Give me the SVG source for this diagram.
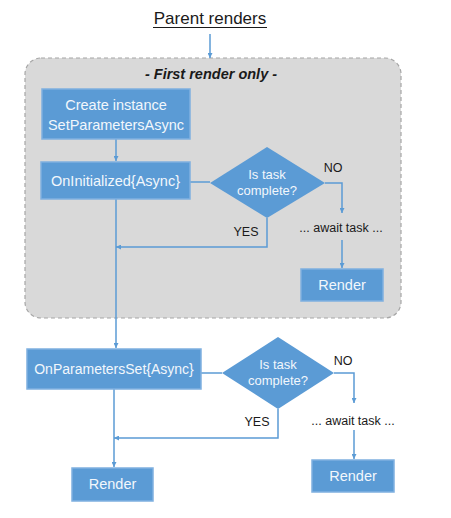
<svg xmlns="http://www.w3.org/2000/svg" width="451" height="518" viewBox="0 0 451 518">
<defs>
<style>
.box{fill:#5b9bd5;stroke:#7fb0e0;stroke-width:1.5}
.bt{font-family:"Liberation Sans",Arial,sans-serif;font-size:14.5px;fill:#f2f7fc;text-anchor:middle}
.dt{font-family:"Liberation Sans",Arial,sans-serif;font-size:13px;fill:#f2f7fc;text-anchor:middle}
.lbl{font-family:"Liberation Sans",Arial,sans-serif;font-size:12.5px;fill:#1a1a1a;text-anchor:middle}
.ln{fill:none;stroke:#5b9bd5;stroke-width:1.5}
</style>
<marker id="ah" viewBox="0 0 10 10" refX="10" refY="5" markerWidth="5" markerHeight="5" orient="auto" markerUnits="userSpaceOnUse">
<path d="M0,0 L10,5 L0,10 z" fill="#5b9bd5"/>
</marker>
</defs>
<rect width="451" height="518" fill="#ffffff"/>
<g id="title">
<text x="210" y="24" font-family="'Liberation Sans',Arial,sans-serif" font-size="17" fill="#1a1a1a" text-anchor="middle">Parent renders</text>
<line x1="153" y1="27.5" x2="267" y2="27.5" stroke="#1a1a1a" stroke-width="1"/>
</g>
<g id="first-render-group">
<rect x="25" y="58" width="376" height="260" rx="16" fill="#d9d9d9" stroke="#a6a6a6" stroke-width="1.2" stroke-dasharray="4,3"/>
<text x="211" y="79" font-family="'Liberation Sans',Arial,sans-serif" font-size="14.5" font-weight="bold" font-style="italic" fill="#1a1a1a" text-anchor="middle">- First render only -</text>
</g>
<g id="connectors">
<line class="ln" x1="210" y1="34" x2="210" y2="58" marker-end="url(#ah)"/>
<line class="ln" x1="116" y1="139" x2="116" y2="161" marker-end="url(#ah)"/>
<line class="ln" x1="190" y1="182" x2="210" y2="182"/>
<polyline class="ln" points="325,183 342,183 342,213" marker-end="url(#ah)"/>
<line class="ln" x1="342" y1="240" x2="342" y2="268" marker-end="url(#ah)"/>
<polyline class="ln" points="267,218 267,247 116,247" marker-end="url(#ah)"/>
<line class="ln" x1="116" y1="199" x2="116" y2="348" marker-end="url(#ah)"/>
<line class="ln" x1="201" y1="373" x2="222" y2="373"/>
<polyline class="ln" points="334,373 354,373 354,403" marker-end="url(#ah)"/>
<line class="ln" x1="354" y1="430" x2="354" y2="459" marker-end="url(#ah)"/>
<polyline class="ln" points="278,409 278,438 114,438" marker-end="url(#ah)"/>
<line class="ln" x1="114" y1="389" x2="114" y2="467" marker-end="url(#ah)"/>
</g>
<g id="create-instance">
<rect class="box" x="42" y="89" width="148" height="50"/>
<text class="bt" x="116" y="110">Create instance</text>
<text class="bt" x="116" y="130">SetParametersAsync</text>
</g>
<g id="on-initialized">
<rect class="box" x="41" y="162" width="149" height="37"/>
<text class="bt" x="115.5" y="186">OnInitialized{Async}</text>
</g>
<g id="decision-1">
<polygon class="box" points="210,183 267,147 325,183 267,218" style="stroke:none"/>
<text class="dt" x="267" y="179">Is task</text>
<text class="dt" x="267" y="195">complete?</text>
</g>
<g id="labels-1">
<text class="lbl" x="333" y="172">NO</text>
<text class="lbl" x="246" y="236">YES</text>
<text class="lbl" x="341" y="232">... await task ...</text>
</g>
<g id="render-1">
<rect class="box" x="301" y="269" width="82" height="32"/>
<text class="bt" x="342" y="290">Render</text>
</g>
<g id="on-parameters-set">
<rect class="box" x="27" y="349" width="174" height="40"/>
<text class="bt" x="114" y="374" style="font-size:14px">OnParametersSet{Async}</text>
</g>
<g id="decision-2">
<polygon class="box" points="222,373 278,337 334,373 278,409" style="stroke:none"/>
<text class="dt" x="278" y="369">Is task</text>
<text class="dt" x="278" y="385">complete?</text>
</g>
<g id="labels-2">
<text class="lbl" x="343" y="365">NO</text>
<text class="lbl" x="257" y="426">YES</text>
<text class="lbl" x="353" y="425">... await task ...</text>
</g>
<g id="render-2">
<rect class="box" x="72" y="468" width="81" height="33"/>
<text class="bt" x="112.5" y="489">Render</text>
</g>
<g id="render-3">
<rect class="box" x="312" y="460" width="82" height="32"/>
<text class="bt" x="353" y="481">Render</text>
</g>
</svg>
